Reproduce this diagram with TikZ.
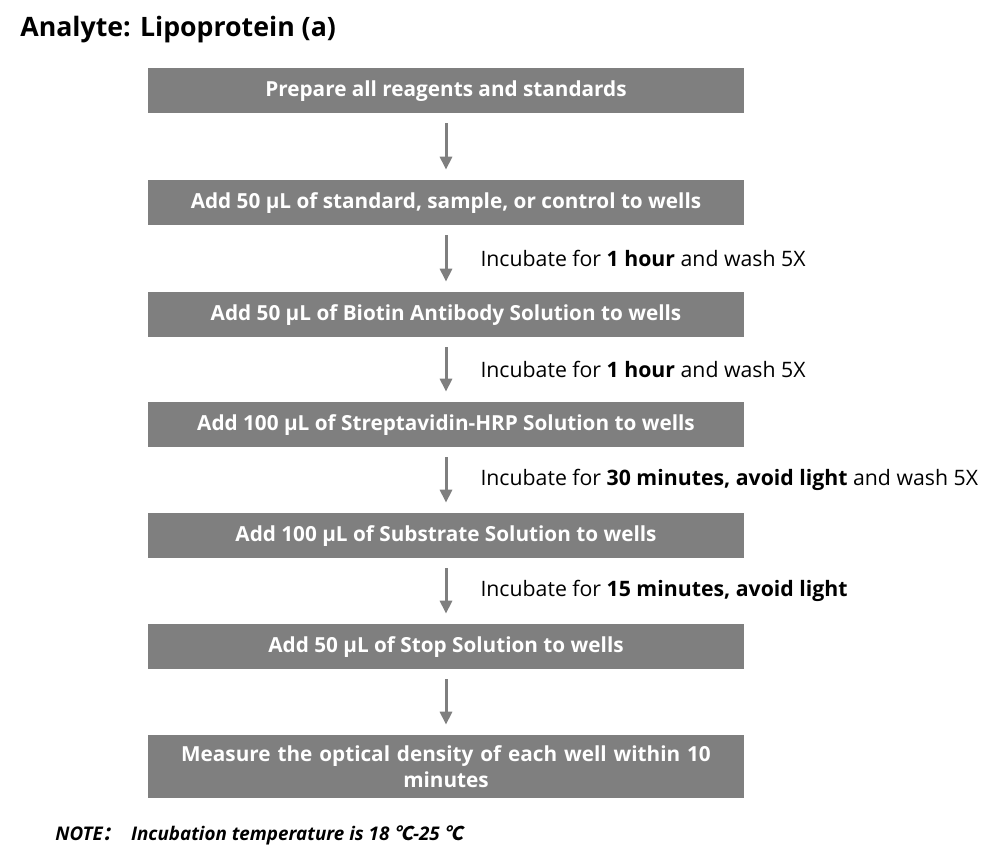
\documentclass[tikz,border=0pt]{standalone}
\usepackage{fontspec}
\setmainfont{Open Sans}
\newfontfamily\cjkslant[FakeSlant=0.2]{Noto Sans CJK SC}
\usepackage{xcolor}
\usetikzlibrary{arrows.meta,positioning}
\definecolor{stepgray}{HTML}{7F7F7F}

\begin{document}
\begin{tikzpicture}[x=0.02cm, y=-0.02cm,
    stepbox/.style={fill=stepgray, text=white, font=\bfseries\fontsize{11.8}{15}\selectfont,
      minimum width=11.92cm, minimum height=0.9cm, align=center, inner sep=0pt,
      text height=0.75em, text depth=0.03em},
    flow/.style={-{Triangle[width=0.24cm,length=0.26cm]}, stepgray, line width=0.06cm,
      shorten <=0.2cm, shorten >=0.2cm},
    incub/.style={right, text=black, inner sep=0pt, xshift=0.66cm, font=\fontsize{12.1}{15}\selectfont}]
  \useasboundingbox (0,0) rectangle (1000,864);

  % Title
  \node[anchor=west, inner sep=0pt, font=\bfseries\fontsize{15.2}{18}\selectfont] (title) at (20,30) {Analyte: Lipoprotein (a)};

  % Steps
  \node[stepbox] (s1) at (446,90.5) {Prepare all reagents and standards};
  \node[stepbox] (s2) at (446,202.5) {Add 50 µL of standard, sample, or control to wells};
  \node[stepbox] (s3) at (446,314.5) {Add 50 µL of Biotin Antibody Solution to wells};
  \node[stepbox] (s4) at (446,424.5) {Add 100 µL of Streptavidin-HRP Solution to wells};
  \node[stepbox] (s5) at (446,535.5) {Add 100 µL of Substrate Solution to wells};
  \node[stepbox] (s6) at (446,646.5) {Add 50 µL of Stop Solution to wells};
  \node[stepbox, minimum height=1.26cm, text width=11.2cm, text height=, text depth=] (s7) at (446,766.5)
    {Measure the optical density of each well within 10\\minutes};

  % Arrows with incubation notes
  \draw[flow] (s1) -- (s2);
  \draw[flow] (s2) -- node[incub] {Incubate for \textbf{1 hour} and wash 5X} (s3);
  \draw[flow] (s3) -- node[incub] {Incubate for \textbf{1 hour} and wash 5X} (s4);
  \draw[flow] (s4) -- node[incub] {Incubate for \textbf{30 minutes, avoid light} and wash 5X} (s5);
  \draw[flow] (s5) -- node[incub] {Incubate for \textbf{15 minutes, avoid light}} (s6);
  \draw[flow] (s6) -- (s7);

  % Note
  \node[anchor=west, inner sep=0pt, font=\bfseries\itshape\fontsize{10.7}{13}\selectfont] (note) at (55,835)
    {NOTE{\cjkslant ：}\enspace Incubation temperature is 18 {\cjkslant ℃}-25 {\cjkslant ℃}};
\end{tikzpicture}
\end{document}
